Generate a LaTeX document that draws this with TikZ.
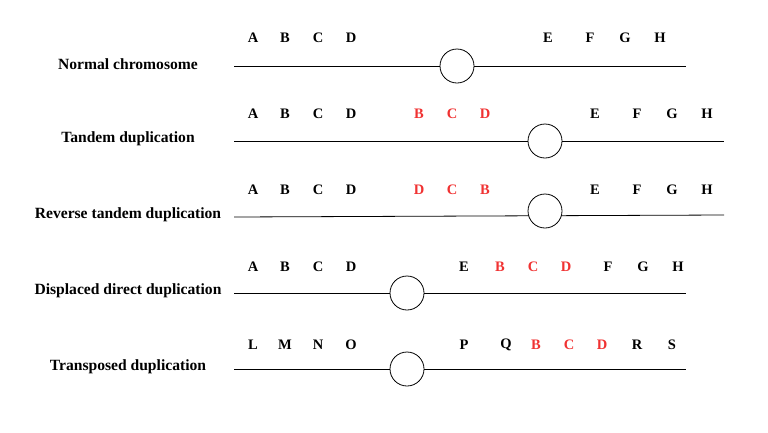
\documentclass[tikz,border=0pt]{standalone}
\usepackage{fontspec}
\setmainfont{Liberation Serif}
\definecolor{dupred}{RGB}{240,50,50}
\begin{document}
\begin{tikzpicture}[x=1pt,y=-1pt,
  lab/.style={font=\fontsize{15.6}{18}\selectfont\bfseries},
  gene/.style={font=\fontsize{14.5}{16}\selectfont\bfseries},
  dup/.style={gene,text=dupred},
  chrom/.style={line width=0.8pt},
  cen/.style={circle,draw,line width=0.8pt,minimum size=34pt,inner sep=0pt,fill=white}]
\useasboundingbox (0,0) rectangle (768,432);
% row 1
\node[lab] (l1) at (128,64) {Normal chromosome};
\coordinate (a1) at (234,66); \coordinate (b1) at (686,66);
\draw[chrom] (a1) -- (b1);
\node[cen] (c1) at (457,66) {};
\foreach \t/\x in {A/253,B/285,C/318,D/351,E/548,F/590,G/625,H/660}
  \node[gene] (r1\t) at (\x,38) {\t};
% row 2
\node[lab] (l2) at (128,139) {Tandem duplication};
\coordinate (a2) at (234,141); \coordinate (b2) at (724,141);
\draw[chrom] (a2) -- (b2);
\node[cen] (c2) at (545,141) {};
\foreach \t/\x in {A/253,B/285,C/318,D/351,E/595,F/637,G/672,H/707}
  \node[gene] (r2\t) at (\x,114) {\t};
\foreach \t/\x in {B/419,C/452,D/485}
  \node[dup] (r2d\t) at (\x,114) {\t};
% row 3
\node[lab] (l3) at (128,215) {Reverse tandem duplication};
\coordinate (a3) at (234,217); \coordinate (b3) at (724,215);
\draw[chrom] (a3) -- (b3);
\node[cen] (c3) at (545,211) {};
\foreach \t/\x in {A/253,B/285,C/318,D/351,E/595,F/637,G/672,H/707}
  \node[gene] (r3\t) at (\x,190) {\t};
\foreach \t/\x in {D/419,C/452,B/485}
  \node[dup] (r3d\t) at (\x,190) {\t};
% row 4
\node[lab] (l4) at (128,291) {Displaced direct duplication};
\coordinate (a4) at (234,293); \coordinate (b4) at (686,293);
\draw[chrom] (a4) -- (b4);
\node[cen] (c4) at (407,293) {};
\foreach \t/\x in {A/253,B/285,C/318,D/351,E/464,F/608,G/643,H/678}
  \node[gene] (r4\t) at (\x,267) {\t};
\foreach \t/\x in {B/500,C/533,D/566}
  \node[dup] (r4d\t) at (\x,267) {\t};
% row 5
\node[lab] (l5) at (128,367) {Transposed duplication};
\coordinate (a5) at (234,369); \coordinate (b5) at (686,369);
\draw[chrom] (a5) -- (b5);
\node[cen] (c5) at (407,369) {};
\foreach \t/\x in {L/253,M/285,N/318,O/351,P/464,Q/506,R/637,S/672}
  \node[gene] (r5\t) at (\x,345) {\t};
\foreach \t/\x in {B/536,C/569,D/602}
  \node[dup] (r5d\t) at (\x,345) {\t};
\end{tikzpicture}
\end{document}
